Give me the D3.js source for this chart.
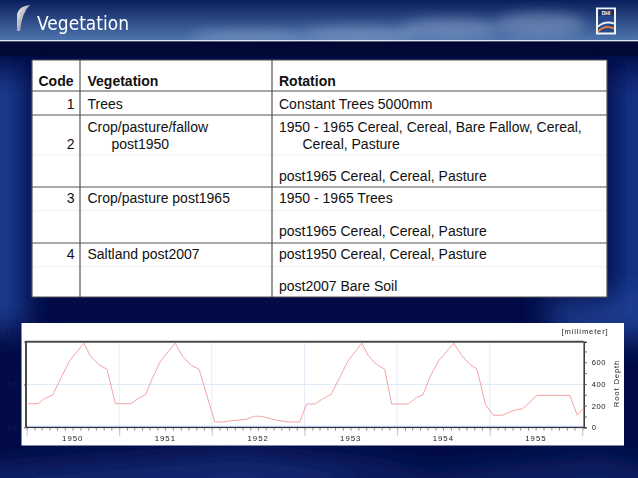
<!DOCTYPE html>
<html>
<head>
<meta charset="utf-8">
<script src="https://cdn.jsdelivr.net/npm/d3@7"></script>
<style>
  html, body { margin: 0; padding: 0; background: #020b46; overflow: hidden; }
  svg { display: block; }
</style>
</head>
<body>
<div id="slide"></div>
<script>
// ---------- Table data ----------
const codes = ["1", "2", "3", "4"];
const vegetation = [
    ["Trees"],
    ["Crop/pasture/fallow", "post1950"],
    ["Crop/pasture post1965"],
    ["Saltland post2007"]
];
const rotations = [
    ["Constant Trees 5000mm"],
    ["1950 - 1965 Cereal, Cereal, Bare Fallow, Cereal,", "Cereal, Pasture", "post1965 Cereal, Cereal, Pasture"],
    ["1950 - 1965 Trees", "post1965 Cereal, Cereal, Pasture"],
    ["post1950 Cereal, Cereal, Pasture", "post2007 Bare Soil"]
];
const headers = ["Code", "Vegetation", "Rotation"];

// ---------- Root depth series (mm) ----------
const dates = [
    "1950-01-07", "1950-02-16", "1950-03-12", "1950-04-14", "1950-05-17", "1950-06-19",
    "1950-08-15", "1950-09-11", "1950-10-16", "1950-11-14", "1950-12-17",
    "1951-02-16", "1951-03-15", "1951-04-15", "1951-05-13", "1951-06-13",
    "1951-08-10", "1951-09-09", "1951-10-12", "1951-11-12",
    "1952-01-13", "1952-02-15", "1952-03-18", "1952-05-16", "1952-06-18", "1952-07-14",
    "1952-09-12", "1952-11-04", "1952-12-13",
    "1953-01-09", "1953-02-11", "1953-03-14", "1953-04-16", "1953-05-19", "1953-06-21",
    "1953-08-15", "1953-09-08", "1953-10-11", "1953-11-13", "1953-12-10",
    "1954-02-14", "1954-03-17", "1954-04-12", "1954-05-12", "1954-06-15",
    "1954-08-12", "1954-09-12", "1954-10-14", "1954-11-12", "1954-12-15",
    "1955-01-15", "1955-02-20", "1955-03-20", "1955-04-12", "1955-05-11",
    "1955-07-07", "1955-11-13", "1955-12-12", "1956-01-04"
];
const rootDepth = [
    218, 218, 264, 298, 458, 612,
    776, 652, 572, 536, 218,
    218, 264, 301, 458, 612,
    776, 652, 572, 536,
    49, 49, 61, 74, 102, 102,
    65, 49, 49,
    215, 215, 264, 305, 458, 612,
    776, 665, 582, 536, 215,
    215, 273, 298, 474, 619,
    776, 665, 582, 536, 212,
    111, 111, 141, 160, 172,
    295, 295, 111, 172
];
const depthTicks = [0, 100, 200, 300, 400, 500, 600, 700];
const depthLabels = [0, 200, 400, 600];
const fracTicks = [0, 0.5, 1];
const years = [1950, 1951, 1952, 1953, 1954, 1955];

const W = 638, H = 478;
const sans = "'Liberation Sans', Arial, Helvetica, sans-serif";

const svg = d3.select("#slide").append("svg")
    .attr("width", W).attr("height", H);

const defs = svg.append("defs");

// ---------- Background ----------
const blur = defs.append("filter").attr("id", "blur")
    .attr("x", "-50%").attr("y", "-50%").attr("width", "200%").attr("height", "200%");
blur.append("feGaussianBlur").attr("stdDeviation", 14);

svg.append("rect").attr("width", W).attr("height", H).attr("fill", "#020b46");

const glow = svg.append("g").attr("filter", "url(#blur)");
glow.append("rect").attr("x", -20).attr("y", 70).attr("width", 44).attr("height", 260)
    .attr("fill", "#1d3f96").attr("opacity", 0.95);
glow.append("rect").attr("x", 616).attr("y", 70).attr("width", 40).attr("height", 250)
    .attr("fill", "#1b3c93").attr("opacity", 0.9);
glow.append("path").attr("d", "M540,300 L660,290 L660,340 L560,340 Z")
    .attr("fill", "#1f4598").attr("opacity", 0.8);
glow.append("path").attr("d", "M-20,470 L240,452 L420,470 L300,500 L-20,500 Z")
    .attr("fill", "#16307e").attr("opacity", 0.8);
glow.append("path").attr("d", "M380,478 L600,456 L660,470 L660,500 L380,500 Z")
    .attr("fill", "#102670").attr("opacity", 0.7);

// ---------- Title bar ----------
const tg = defs.append("linearGradient").attr("id", "titleGrad")
    .attr("x1", 0).attr("y1", 0).attr("x2", 0).attr("y2", 1);
tg.append("stop").attr("offset", "0%").attr("stop-color", "#0a1f5e");
tg.append("stop").attr("offset", "100%").attr("stop-color", "#4f76af");

svg.append("rect").attr("x", 0).attr("y", 0).attr("width", W).attr("height", 41)
    .attr("fill", "url(#titleGrad)");
const cloudBlur = defs.append("filter").attr("id", "cloud")
    .attr("x", "-50%").attr("y", "-50%").attr("width", "200%").attr("height", "200%");
cloudBlur.append("feGaussianBlur").attr("stdDeviation", 6);
svg.append("g").attr("filter", "url(#cloud)").attr("opacity", 0.35)
    .selectAll("ellipse")
    .data([[360, 34, 60, 8], [450, 28, 50, 10], [540, 24, 45, 12], [250, 36, 60, 6]])
    .join("ellipse")
    .attr("cx", d => d[0]).attr("cy", d => d[1]).attr("rx", d => d[2]).attr("ry", d => d[3])
    .attr("fill", "#b8c8e0");
svg.append("rect").attr("x", 0).attr("y", 40).attr("width", W).attr("height", 1.6)
    .attr("fill", "#dfe6f0");
svg.append("rect").attr("x", 0).attr("y", 41.6).attr("width", W).attr("height", 14)
    .attr("fill", "#000934");

// page curl
const cg = defs.append("linearGradient").attr("id", "curlGrad")
    .attr("x1", 0).attr("y1", 0).attr("x2", 1).attr("y2", 1);
cg.append("stop").attr("offset", "0%").attr("stop-color", "#f4f4f4");
cg.append("stop").attr("offset", "100%").attr("stop-color", "#6f7480");
svg.append("path").attr("d", "M17,31 L17,14 Q19,6 30,5 Q22,12 20,31 Z")
    .attr("fill", "url(#curlGrad)");

svg.append("text")
    .attr("x", 37).attr("y", 29.5)
    .attr("fill", "#ffffff")
    .attr("font-family", "'DejaVu Sans', Verdana, sans-serif")
    .attr("font-size", 19.5)
    .attr("textLength", 92).attr("lengthAdjust", "spacingAndGlyphs")
    .text("Vegetation");

// DHI logo
const logo = svg.append("g").attr("transform", "translate(596,7.5)");
logo.append("rect").attr("width", 20).attr("height", 27).attr("fill", "#f2f4f8");
logo.append("rect").attr("x", 2).attr("y", 2).attr("width", 16).attr("height", 23).attr("fill", "#27488a");
logo.append("rect").attr("x", 2).attr("y", 2).attr("width", 16).attr("height", 6).attr("fill", "#1a2f66");
logo.append("text").attr("x", 10).attr("y", 7).attr("text-anchor", "middle")
    .attr("font-family", sans).attr("font-weight", "bold").attr("font-size", 5)
    .attr("fill", "#ffffff").text("DHI");
logo.append("path").attr("d", "M2,19 Q9,13 18,16").attr("stroke", "#e8edf5")
    .attr("stroke-width", 2).attr("fill", "none");
logo.append("path").attr("d", "M2,24 Q9,17 18,21").attr("stroke", "#e0803a")
    .attr("stroke-width", 2).attr("fill", "none");

// ---------- Table ----------
const tbl = svg.append("g");
const colX = [32, 80, 272, 607];
const rowY = [60, 91, 115, 187, 243, 297];
const subLines = [155, 210.7, 266.7];

tbl.append("rect").attr("x", colX[0]).attr("y", rowY[0])
    .attr("width", colX[3] - colX[0]).attr("height", rowY[5] - rowY[0])
    .attr("fill", "#ffffff");

tbl.selectAll("line.sub").data(subLines).join("line")
    .attr("class", "sub")
    .attr("x1", colX[0] + 1).attr("x2", colX[3] - 1)
    .attr("y1", d => d).attr("y2", d => d)
    .attr("stroke", "#f1f1f1").attr("stroke-width", 1);

tbl.selectAll("line.h").data(rowY).join("line")
    .attr("class", "h")
    .attr("x1", colX[0]).attr("x2", colX[3])
    .attr("y1", d => d).attr("y2", d => d)
    .attr("stroke", (d, i) => i === 1 ? "#8a8a8a" : "#555555")
    .attr("stroke-width", (d, i) => i === 1 ? 1.6 : 1.2);

tbl.selectAll("line.v").data(colX).join("line")
    .attr("class", "v")
    .attr("x1", d => d).attr("x2", d => d)
    .attr("y1", rowY[0]).attr("y2", rowY[5])
    .attr("stroke", "#555555").attr("stroke-width", 1.2);

const txt = (x, y, s, opts = {}) => tbl.append("text")
    .attr("x", x).attr("y", y)
    .attr("font-family", sans).attr("font-size", 14)
    .attr("font-weight", opts.bold ? "bold" : "normal")
    .attr("text-anchor", opts.anchor || "start")
    .attr("fill", "#111111")
    .text(s);

txt(38.5, 85.7, headers[0], { bold: true });
txt(87.5, 85.7, headers[1], { bold: true });
txt(279, 85.7, headers[2], { bold: true });

// baselines of the text lines of each row
const lineBase = [
    [109.3],
    [132.3, 149.3, 181],
    [203.3, 236],
    [259, 291]
];
const codeLine = [0, 1, 0, 0];
const vegIndent = [[0], [0, 24], [0], [0]];
const rotIndent = [[0], [0, 23.5, 0], [0, 0], [0, 0]];

codes.forEach((c, i) => {
    txt(74.5, lineBase[i][codeLine[i]], c, { anchor: "end" });
    vegetation[i].forEach((s, j) => txt(87.5 + vegIndent[i][j], lineBase[i][j], s));
    rotations[i].forEach((s, j) => txt(279 + rotIndent[i][j], lineBase[i][j], s));
});

// ---------- Root depth chart ----------
svg.append("rect").attr("x", 21.5).attr("y", 323).attr("width", 602.5).attr("height", 122.5)
    .attr("fill", "#ffffff");

const plot = { left: 26, right: 583.7, top: 341.7, bottom: 427.3 };

const x = d3.scaleTime()
    .domain([new Date(1950, 0, 1), new Date(1956, 0, 1)])
    .range([26.6, 582.3]);
const yDepth = d3.scaleLinear().domain([0, 790]).range([plot.bottom, plot.top]);
const yFrac = d3.scaleLinear().domain([0, 1]).range([plot.bottom, plot.top]);

const series = dates.map((d, i) => ({ date: d3.timeParse("%Y-%m-%d")(d), value: rootDepth[i] }));

const chart = svg.append("g");

// grid
chart.selectAll("line.vgrid").data(years.slice(1)).join("line")
    .attr("class", "vgrid")
    .attr("x1", d => x(new Date(d, 0, 1))).attr("x2", d => x(new Date(d, 0, 1)))
    .attr("y1", plot.top).attr("y2", plot.bottom)
    .attr("stroke", "#e4edf8").attr("stroke-width", 1);
chart.append("line")
    .attr("x1", plot.left).attr("x2", plot.right)
    .attr("y1", yFrac(0.5)).attr("y2", yFrac(0.5))
    .attr("stroke", "#e0ebf8").attr("stroke-width", 1);

// monthly and yearly ticks below the axis
chart.append("g")
    .attr("transform", `translate(0,${plot.bottom})`)
    .call(d3.axisBottom(x).ticks(d3.timeMonth.every(1)).tickSize(3.5).tickFormat(""))
    .call(g => g.select(".domain").remove())
    .call(g => g.selectAll("line").attr("stroke", "#9a9a9a"));
chart.append("g")
    .attr("transform", `translate(0,${plot.bottom})`)
    .call(d3.axisBottom(x).ticks(d3.timeYear.every(1)).tickSize(9).tickFormat(""))
    .call(g => g.select(".domain").remove())
    .call(g => g.selectAll("line").attr("stroke", "#c4c4c4"));

chart.selectAll("text.year").data(years).join("text")
    .attr("class", "year")
    .attr("x", d => x(new Date(d, 6, 2)))
    .attr("y", 441.3)
    .attr("text-anchor", "middle")
    .attr("font-family", sans).attr("font-size", 7.8)
    .attr("letter-spacing", 1)
    .attr("fill", "#222222")
    .text(d => d);

// zero line and frame
chart.append("line")
    .attr("x1", plot.left).attr("x2", plot.right)
    .attr("y1", plot.bottom - 1).attr("y2", plot.bottom - 1)
    .attr("stroke", "#a9b8ee").attr("stroke-width", 1);
chart.append("line")
    .attr("x1", plot.left).attr("x2", plot.right)
    .attr("y1", plot.bottom + 0.3).attr("y2", plot.bottom + 0.3)
    .attr("stroke", "#222222").attr("stroke-width", 1);
chart.append("path")
    .attr("d", `M${plot.left},${plot.bottom} V${plot.top} H${plot.right}`)
    .attr("fill", "none").attr("stroke", "#4a4a4a").attr("stroke-width", 2);

// right axis: root depth
const rightAxis = chart.append("g")
    .attr("transform", `translate(${plot.right},0)`)
    .call(d3.axisRight(yDepth).tickValues(depthTicks).tickSize(3).tickPadding(5)
        .tickFormat(d => depthLabels.includes(d) ? d : ""));
rightAxis.select(".domain").attr("stroke", "#333333").attr("stroke-width", 1.5);
rightAxis.selectAll("line").attr("stroke", "#555555");
rightAxis.selectAll("text")
    .attr("font-family", sans).attr("font-size", 7.6).attr("letter-spacing", 0.5)
    .attr("fill", "#222222");

chart.append("text")
    .attr("transform", `translate(618.5,${(plot.top + plot.bottom) / 2 - 1}) rotate(-90)`)
    .attr("text-anchor", "middle")
    .attr("font-family", sans).attr("font-size", 7.8).attr("letter-spacing", 0.8)
    .attr("fill", "#222222")
    .text("Root Depth");
chart.append("text")
    .attr("x", 608.5).attr("y", 334.3)
    .attr("text-anchor", "end")
    .attr("font-family", sans).attr("font-size", 7.6).attr("letter-spacing", 0.85)
    .attr("fill", "#222222")
    .text("[millimeter]");

// left axis: fraction (drawn dark, off the white panel)
const leftAxis = chart.append("g")
    .attr("transform", `translate(${plot.left},0)`)
    .call(d3.axisLeft(yFrac).tickValues(fracTicks).tickSize(2).tickPadding(6)
        .tickFormat(d3.format(".1f")));
leftAxis.select(".domain").remove();
leftAxis.selectAll("line").attr("stroke", "#555555");
leftAxis.selectAll("text")
    .attr("font-family", sans).attr("font-size", 7.5).attr("font-weight", "bold")
    .attr("fill", "#0c1650");
chart.append("text")
    .attr("x", 6).attr("y", 334)
    .attr("font-family", sans).attr("font-size", 7.5).attr("font-weight", "bold")
    .attr("fill", "#0c1650")
    .text("[-]");
chart.append("text")
    .attr("x", 575).attr("y", 459)
    .attr("font-family", sans).attr("font-size", 7.5).attr("font-weight", "bold")
    .attr("fill", "#08113e")
    .text("[-]");

// line
defs.append("clipPath").attr("id", "plotClip")
    .append("rect")
    .attr("x", plot.left).attr("y", plot.top - 2)
    .attr("width", plot.right - plot.left).attr("height", plot.bottom - plot.top + 2);

chart.append("path")
    .datum(series)
    .attr("clip-path", "url(#plotClip)")
    .attr("fill", "none")
    .attr("stroke", "#f4a3a6")
    .attr("stroke-width", 1)
    .attr("d", d3.line().x(d => x(d.date)).y(d => yDepth(d.value)));
</script>
</body>
</html>
